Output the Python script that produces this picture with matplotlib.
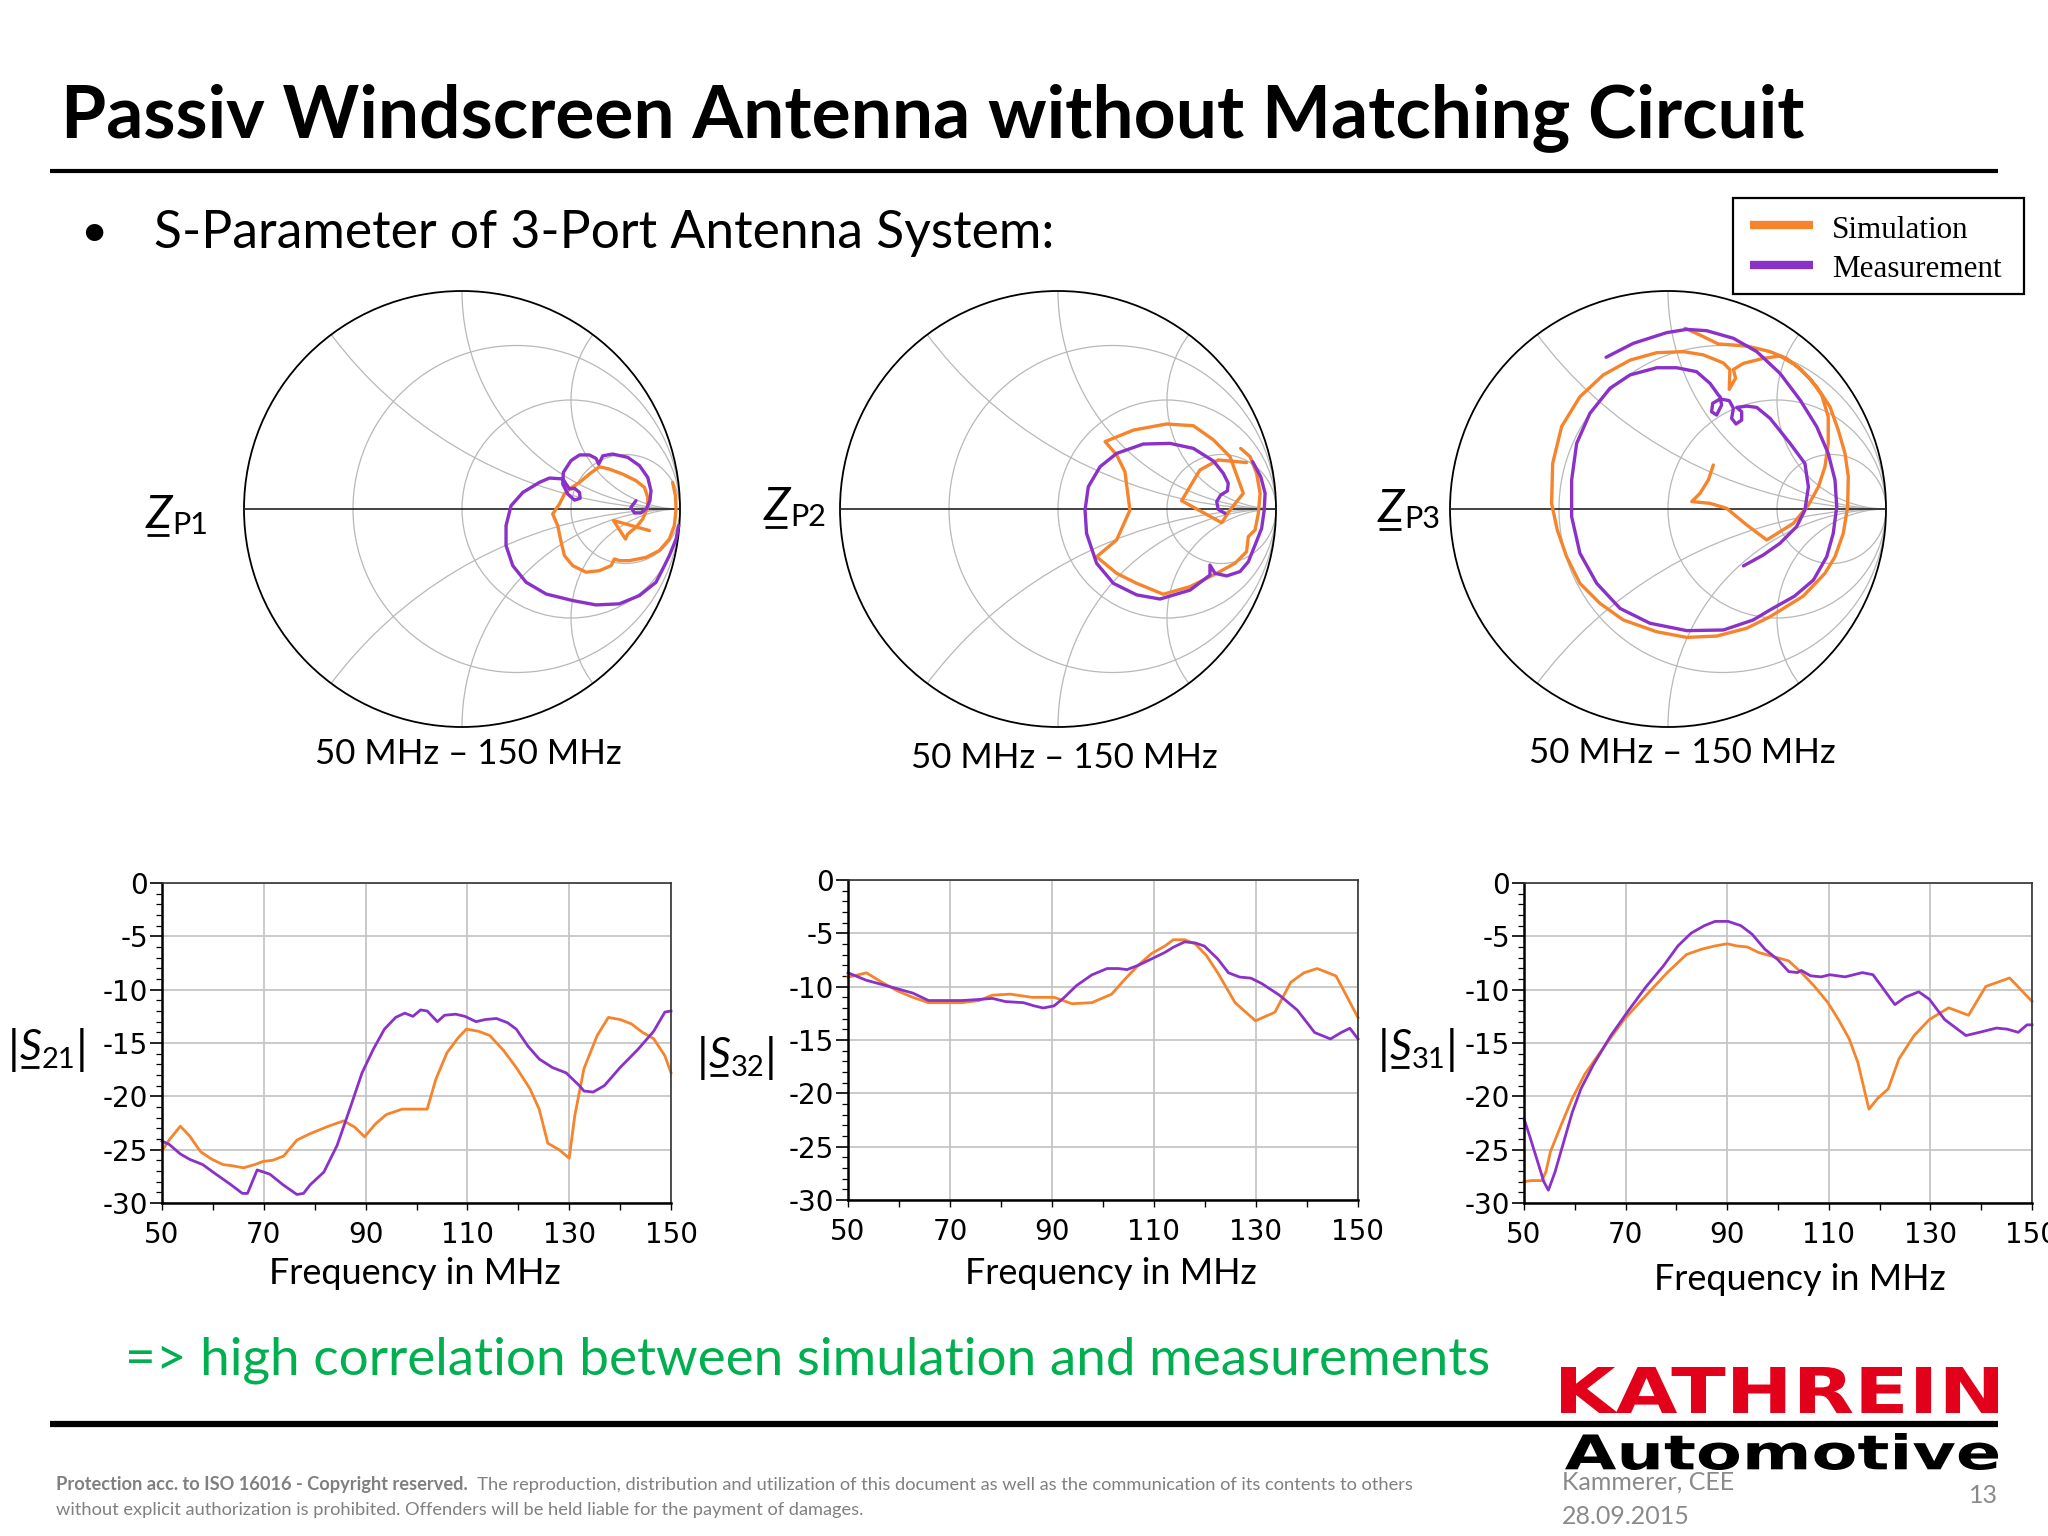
import numpy as np
import matplotlib
matplotlib.use("Agg")
import matplotlib.pyplot as plt
from matplotlib.patches import Circle, PathPatch, Rectangle
from matplotlib.textpath import TextPath
from matplotlib.font_manager import FontProperties
from matplotlib.transforms import Affine2D, IdentityTransform
from matplotlib.lines import Line2D

plt.rcParams['axes.unicode_minus'] = False

# ---------------- data ----------------
TITLE = "Passiv Windscreen Antenna without Matching Circuit"
SUBTITLE = "S-Parameter of 3-Port Antenna System:"
RANGE_TEXT = "50 MHz \u2013 150 MHz"
XLABEL = "Frequency in MHz"
CONCLUSION = "=> high correlation between simulation and measurements"
LEGEND_LABELS = ["Simulation", "Measurement"]

# Smith-chart grid values (normalised)
R_CIRCLES = [1/3, 1.0, 3.0]
X_ARCS = [0.5, 1.0, 2.0]

Z1_SIM_RE = [0.966, 0.979, 0.982, 0.974, 0.951, 0.905, 0.844, 0.768, 0.722, 0.699, 0.684, 0.630, 0.569, 0.508,
             0.470, 0.455, 0.439, 0.416, 0.447, 0.470, 0.493, 0.539, 0.584, 0.630, 0.676, 0.737, 0.798, 0.837,
             0.852, 0.852, 0.829, 0.798, 0.760, 0.750, 0.695, 0.860]
Z1_SIM_IM = [0.122, 0.061, 0.0, -0.076, -0.138, -0.191, -0.222, -0.237, -0.237, -0.229, -0.260, -0.283, -0.290,
             -0.260, -0.214, -0.153, -0.076, -0.023, 0.023, 0.069, 0.092, 0.122, 0.160, 0.194, 0.183, 0.160, 0.130,
             0.099, 0.053, 0.008, -0.046, -0.084, -0.115, -0.138, -0.053, -0.099]
Z1_MEAS_RE = [0.798, 0.775, 0.791, 0.821, 0.847, 0.862, 0.867, 0.852, 0.814, 0.760, 0.691, 0.646, 0.627, 0.615,
              0.584, 0.539, 0.500, 0.465, 0.462, 0.485, 0.516, 0.542, 0.539, 0.516, 0.493, 0.462, 0.401, 0.355,
              0.279, 0.225, 0.202, 0.202, 0.233, 0.294, 0.386, 0.508, 0.615, 0.722, 0.814, 0.890, 0.921, 0.951,
              0.982, 0.994]
Z1_MEAS_IM = [0.038, 0.008, -0.018, -0.018, 0.003, 0.038, 0.084, 0.145, 0.199, 0.237, 0.252, 0.244, 0.206, 0.232,
              0.248, 0.248, 0.222, 0.168, 0.115, 0.069, 0.041, 0.049, 0.076, 0.095, 0.092, 0.138, 0.142, 0.122,
              0.076, 0.015, -0.076, -0.168, -0.260, -0.336, -0.390, -0.420, -0.440, -0.435, -0.397, -0.336,
              -0.275, -0.214, -0.138, -0.076]

Z2_SIM_RE = [0.865, 0.735, 0.651, 0.567, 0.751, 0.789, 0.850, 0.789, 0.713, 0.621, 0.498, 0.346, 0.216, 0.269,
             0.307, 0.330, 0.269, 0.177, 0.269, 0.361, 0.483, 0.606, 0.728, 0.812, 0.865, 0.873, 0.904, 0.919,
             0.927, 0.911, 0.881, 0.838]
Z2_SIM_IM = [0.213, 0.225, 0.179, 0.038, -0.063, -0.005, 0.072, 0.240, 0.317, 0.382, 0.390, 0.362, 0.309, 0.248,
             0.171, -0.005, -0.142, -0.219, -0.295, -0.341, -0.391, -0.356, -0.295, -0.249, -0.196, -0.127,
             -0.096, -0.020, 0.072, 0.164, 0.240, 0.278]
Z2_MEAS_RE = [0.766, 0.735, 0.728, 0.746, 0.777, 0.781, 0.758, 0.713, 0.621, 0.514, 0.391, 0.269, 0.193, 0.139,
              0.124, 0.131, 0.177, 0.254, 0.361, 0.468, 0.606, 0.697, 0.697, 0.720, 0.774, 0.835, 0.873, 0.904,
              0.934, 0.946, 0.950, 0.930, 0.893]
Z2_MEAS_IM = [-0.020, -0.002, 0.034, 0.064, 0.083, 0.118, 0.164, 0.220, 0.278, 0.301, 0.298, 0.255, 0.194, 0.102,
              -0.005, -0.112, -0.249, -0.341, -0.394, -0.413, -0.372, -0.303, -0.257, -0.295, -0.307, -0.287,
              -0.242, -0.165, -0.089, -0.005, 0.072, 0.148, 0.217]

Z3_SIM_RE = [0.078, 0.147, 0.231, 0.361, 0.468, 0.544, 0.613, 0.682, 0.743, 0.781, 0.812, 0.827, 0.824, 0.804,
             0.766, 0.720, 0.620, 0.468, 0.361, 0.223, 0.086, -0.052, -0.205, -0.312, -0.404, -0.465, -0.508,
             -0.534, -0.529, -0.488, -0.404, -0.297, -0.174, -0.052, 0.070, 0.162, 0.254, 0.284, 0.281, 0.310,
             0.300, 0.346, 0.437, 0.514, 0.583, 0.651, 0.705, 0.735, 0.735, 0.720, 0.690, 0.644, 0.575, 0.453,
             0.361, 0.269, 0.193, 0.109, 0.147, 0.185, 0.208]
Z3_SIM_IM = [0.829, 0.798, 0.757, 0.748, 0.722, 0.691, 0.638, 0.561, 0.469, 0.362, 0.255, 0.148, 0.011, -0.112,
             -0.219, -0.295, -0.400, -0.494, -0.547, -0.583, -0.589, -0.563, -0.509, -0.433, -0.341, -0.219,
             -0.096, 0.026, 0.209, 0.378, 0.515, 0.615, 0.683, 0.717, 0.722, 0.707, 0.670, 0.639, 0.549, 0.600,
             0.640, 0.668, 0.691, 0.702, 0.661, 0.599, 0.523, 0.424, 0.301, 0.194, 0.102, 0.018, -0.066, -0.142,
             -0.073, 0.003, 0.026, 0.034, 0.072, 0.133, 0.202]
Z3_MEAS_RE = [-0.284, -0.159, -0.006, 0.086, 0.177, 0.300, 0.407, 0.514, 0.606, 0.682, 0.735, 0.766, 0.774, 0.758,
              0.728, 0.667, 0.580, 0.468, 0.391, 0.254, 0.086, -0.083, -0.220, -0.327, -0.404, -0.442, -0.442,
              -0.419, -0.358, -0.266, -0.174, -0.052, 0.040, 0.131, 0.193, 0.231, 0.239, 0.246, 0.223, 0.200,
              0.205, 0.239, 0.281, 0.300, 0.292, 0.312, 0.338, 0.338, 0.315, 0.361, 0.407, 0.468, 0.560, 0.628,
              0.644, 0.628, 0.590, 0.514, 0.437, 0.346]
Z3_MEAS_IM = [0.696, 0.760, 0.809, 0.824, 0.818, 0.783, 0.722, 0.622, 0.500, 0.378, 0.255, 0.133, 0.011, -0.112,
              -0.219, -0.326, -0.400, -0.463, -0.509, -0.555, -0.558, -0.524, -0.456, -0.341, -0.203, -0.035,
              0.133, 0.301, 0.439, 0.554, 0.615, 0.648, 0.648, 0.630, 0.576, 0.523, 0.515, 0.477, 0.431, 0.446,
              0.485, 0.505, 0.497, 0.462, 0.416, 0.390, 0.408, 0.446, 0.466, 0.472, 0.466, 0.416, 0.301, 0.209,
              0.102, -0.005, -0.081, -0.157, -0.211, -0.261]

# |S| curves in dB vs frequency in MHz
S21_SIM_F = [50, 51.4, 53.6, 55.4, 57.6, 59.8, 62.0, 63.7, 66.0, 68.2, 69.9, 71.7, 73.9, 76.5, 79.1, 82.7, 85.7,
             87.9, 89.8, 91.9, 94.1, 97.2, 99.8, 102.1, 103.8, 106.0, 108.2, 109.8, 112.2, 114.4, 117.1, 119.6,
             122.3, 124.1, 125.8, 128.0, 130.0, 131.1, 132.9, 135.5, 137.7, 140.0, 142.2, 144.4, 146.6, 148.8, 150]
S21_SIM_DB = [-25.1, -24.1, -22.8, -23.7, -25.2, -25.9, -26.4, -26.5, -26.7, -26.4, -26.1, -26.0, -25.6, -24.1,
              -23.5, -22.8, -22.3, -22.9, -23.8, -22.6, -21.7, -21.2, -21.2, -21.2, -18.4, -15.9, -14.5, -13.7,
              -13.9, -14.3, -15.7, -17.3, -19.3, -21.2, -24.4, -25.0, -25.8, -21.8, -17.4, -14.3, -12.6, -12.8,
              -13.2, -14.0, -14.6, -16.2, -17.8]
S21_MEAS_F = [50, 51.4, 53.6, 55.4, 58, 60.6, 63.3, 65.8, 66.8, 68.7, 71.2, 73.8, 76.5, 77.8, 79.1, 81.8, 84.4,
              87.1, 89.3, 91.5, 93.7, 95.9, 97.7, 99.3, 100.8, 102.1, 104.1, 105.5, 107.7, 109.5, 111.7, 113.5,
              115.7, 117.9, 119.6, 121.9, 124.1, 126.7, 129.4, 132.0, 132.9, 134.7, 136.9, 140.0, 143.5, 146.6,
              148.8, 150]
S21_MEAS_DB = [-24.2, -24.5, -25.4, -25.9, -26.4, -27.3, -28.2, -29.1, -29.1, -26.9, -27.3, -28.3, -29.2, -29.1,
               -28.3, -27.1, -24.6, -20.9, -17.8, -15.6, -13.7, -12.6, -12.2, -12.5, -11.9, -12.0, -13.0, -12.4,
               -12.3, -12.5, -13.0, -12.8, -12.7, -13.1, -13.7, -15.3, -16.5, -17.3, -17.8, -19.0, -19.5, -19.6,
               -19.0, -17.3, -15.6, -13.9, -12.1, -12.0]

S32_SIM_F = [50, 51.9, 53.6, 56.7, 59.7, 62.7, 65.8, 68.8, 72.3, 75.7, 78.3, 81.8, 86.1, 90.4, 92.2, 93.9, 97.8,
             101.7, 104.3, 106.9, 109.5, 112.1, 113.8, 116.0, 118.1, 120.3, 122.5, 125.9, 129.9, 133.7, 136.8,
             139.4, 142.0, 145.7, 150]
S32_SIM_DB = [-9.1, -8.9, -8.7, -9.6, -10.4, -11.0, -11.5, -11.5, -11.5, -11.3, -10.8, -10.7, -11.0, -11.0, -11.3,
              -11.6, -11.5, -10.7, -9.3, -8.0, -6.9, -6.2, -5.6, -5.6, -6.0, -7.1, -8.7, -11.5, -13.2, -12.4, -9.6,
              -8.7, -8.3, -9.0, -12.9]
S32_MEAS_F = [50, 53.6, 56.7, 59.7, 62.7, 65.8, 68.8, 72.3, 75.7, 78.3, 80.9, 84.4, 86.5, 88.3, 90.4, 92.2, 94.8,
              97.8, 100.8, 103.0, 104.7, 106.9, 109.5, 112.1, 113.8, 116.0, 118.1, 119.9, 122.5, 124.6, 126.8,
              129.0, 131.1, 134.6, 138.1, 141.5, 144.6, 146.7, 148.4, 150]
S32_MEAS_DB = [-8.7, -9.4, -9.8, -10.2, -10.6, -11.3, -11.3, -11.3, -11.2, -11.1, -11.4, -11.5, -11.8, -12.0, -11.8,
               -11.1, -9.9, -8.9, -8.3, -8.3, -8.4, -8.0, -7.4, -6.8, -6.3, -5.8, -5.9, -6.2, -7.4, -8.7, -9.1,
               -9.2, -9.7, -10.8, -12.2, -14.3, -14.9, -14.3, -13.9, -14.9]

S31_SIM_F = [50, 51.4, 53.5, 54.3, 55.2, 57.3, 59.5, 62.0, 65.4, 69.7, 73.9, 78.2, 82.0, 85.0, 87.6, 90.0, 91.9,
             94.0, 96.1, 99.1, 102.1, 104.6, 107.2, 109.8, 111.9, 114.0, 115.7, 117.9, 119.6, 121.7, 123.8, 126.8,
             129.8, 133.6, 137.5, 140.9, 145.6, 150]
S31_SIM_DB = [-28.0, -27.9, -27.9, -27.1, -25.2, -22.7, -20.2, -17.9, -15.6, -12.8, -10.6, -8.4, -6.7, -6.2, -5.9,
              -5.7, -5.9, -6.0, -6.5, -6.9, -7.3, -8.4, -9.7, -11.2, -12.8, -14.6, -16.8, -21.2, -20.2, -19.3,
              -16.5, -14.3, -12.8, -11.7, -12.4, -9.7, -8.9, -11.1]
S31_MEAS_F = [50, 51.1, 52.6, 53.9, 54.8, 56.1, 57.8, 59.5, 61.2, 63.7, 67.1, 70.5, 73.9, 77.4, 80.3, 82.9, 85.5,
              87.6, 90.2, 92.7, 94.9, 97.4, 100.0, 102.1, 103.8, 104.6, 106.4, 108.5, 110.2, 113.2, 116.6, 118.7,
              120.4, 123.0, 125.1, 127.7, 129.8, 132.8, 137.0, 140.5, 143.0, 145.1, 147.3, 149.0, 150]
S31_MEAS_DB = [-22.1, -23.7, -26.0, -28.0, -28.8, -27.1, -24.3, -21.5, -19.3, -17.0, -14.3, -12.0, -9.8, -7.8,
               -5.9, -4.7, -4.0, -3.6, -3.6, -4.0, -4.8, -6.2, -7.2, -8.3, -8.4, -8.2, -8.7, -8.8, -8.6, -8.8,
               -8.4, -8.6, -9.7, -11.4, -10.7, -10.2, -10.9, -12.8, -14.3, -13.9, -13.6, -13.7, -14.0, -13.3, -13.3]

X_TICKS = [50, 70, 90, 110, 130, 150]
Y_TICKS = [0, -5, -10, -15, -20, -25, -30]

FOOTER_BOLD = "Protection acc. to ISO 16016 - Copyright reserved."
FOOTER_1 = ("  The reproduction, distribution and utilization of this document as well as the communication "
            "of its contents to others")
FOOTER_2 = "without explicit authorization is prohibited. Offenders will be held liable for the payment of damages."
AUTHOR = "Kammerer, CEE"
DATE = "28.09.2015"
PAGE = "13"

# ---------------- style ----------------
ORANGE = '#F5842C'
PURPLE = '#8A31C9'
GRIDC = '#b8b8b8'
SANS = ['Lato', 'DejaVu Sans']
NARROW = ['Liberation Sans Narrow', 'DejaVu Sans']
SERIF = ['Liberation Serif', 'DejaVu Serif']

W, H = 2048, 1536
fig = plt.figure(figsize=(W / 100, H / 100), dpi=100)
fig.patch.set_facecolor('white')
renderer = fig.canvas.get_renderer()


def fx(x):
    return x / W


def fy(y):
    return 1 - y / H


def text_px(x, y, s, size, **kw):
    kw.setdefault('ha', 'left')
    kw.setdefault('va', 'baseline')
    return fig.text(fx(x), fy(y), s, fontsize=size, **kw)


def fit_text(x, y, s, width, size0=20, **kw):
    t = text_px(x, y, s, size0, **kw)
    w = t.get_window_extent(renderer).width
    t.set_fontsize(size0 * width / w)
    return t


def hline(x0, x1, y, lw, color='black'):
    fig.add_artist(Line2D([fx(x0), fx(x1)], [fy(y), fy(y)], transform=fig.transFigure,
                          color=color, lw=lw, solid_capstyle='butt'))


def seq_text(x, y, parts, family=SANS):
    """parts: (string, size, style, dy, underline)"""
    cur = x
    for s, size, style, dy, ul in parts:
        t = text_px(cur, y + dy, s, size, style=style, family=family)
        bb = t.get_window_extent(renderer)
        if ul:
            hline(bb.x0 + 1, bb.x1 - 3, y + 7, 2.0)
        cur += bb.width


def logo_text(s, box, color, family='DejaVu Sans', weight='bold'):
    x0, y0, x1, y1 = box
    fp = FontProperties(family=family, weight=weight)
    tp = TextPath((0, 0), s, size=100, prop=fp)
    ext = tp.get_extents()
    sx = (x1 - x0) / ext.width
    sy = (y1 - y0) / ext.height
    tr = Affine2D().translate(-ext.x0, -ext.y0).scale(sx, sy).translate(x0, H - y1)
    fig.add_artist(PathPatch(tr.transform_path(tp), fc=color, ec='none', transform=IdentityTransform()))


# ---------------- header ----------------
fit_text(61, 137, TITLE, 1748, size0=50, family=SANS, weight='bold')
hline(50, 1998, 171, 3.0)
text_px(80, 246, "\u2022", 34, family=SANS)
fit_text(154, 248, SUBTITLE, 901, size0=36, family=SANS)

# legend
fig.add_artist(Rectangle((fx(1733), fy(294)), (2024 - 1733) / W, (294 - 198) / H, transform=fig.transFigure,
                         fill=False, ec='black', lw=1.6))
hline(1750, 1813, 225, 6.0, ORANGE)
hline(1750, 1813, 265, 6.0, PURPLE)
fit_text(1832, 238, LEGEND_LABELS[0], 137, size0=24, family=SERIF)
fit_text(1832, 277, LEGEND_LABELS[1], 170, size0=24, family=SERIF)


# ---------------- Smith charts ----------------
def smith_axes(cx, cy, R=218):
    ax = fig.add_axes([fx(cx - R), fy(cy + R), 2 * R / W, 2 * R / H])
    ax.set_xlim(-1, 1)
    ax.set_ylim(-1, 1)
    ax.axis('off')
    clip = Circle((0, 0), 1, fill=False, lw=0)
    ax.add_patch(clip)
    for r in R_CIRCLES:
        ax.add_patch(Circle((r / (1 + r), 0), 1 / (1 + r), fill=False, ec=GRIDC, lw=0.9))
    for xv in X_ARCS:
        for sgn in (1, -1):
            c = Circle((1, sgn / xv), 1 / xv, fill=False, ec=GRIDC, lw=0.9)
            ax.add_patch(c)
            c.set_clip_path(clip)
    ax.plot([-1, 1], [0, 0], color='#222222', lw=1.2)
    ax.add_patch(Circle((0, 0), 1, fill=False, ec='black', lw=1.3, clip_on=False))
    return ax


smiths = [
    (462, 509, Z1_SIM_RE, Z1_SIM_IM, Z1_MEAS_RE, Z1_MEAS_IM),
    (1058, 509, Z2_SIM_RE, Z2_SIM_IM, Z2_MEAS_RE, Z2_MEAS_IM),
    (1668, 509, Z3_SIM_RE, Z3_SIM_IM, Z3_MEAS_RE, Z3_MEAS_IM),
]
for cx, cy, sre, sim, mre, mim in smiths:
    ax = smith_axes(cx, cy)
    ax.plot(sre, sim, color=ORANGE, lw=2.4, clip_on=False, solid_joinstyle='round', solid_capstyle='round')
    ax.plot(mre, mim, color=PURPLE, lw=2.4, clip_on=False, solid_joinstyle='round', solid_capstyle='round')

# port labels
for x0, yb, sub in [(146, 528, "P1"), (764, 520, "P2"), (1378, 522, "P3")]:
    seq_text(x0, yb, [("Z", 34, 'italic', 0, True), (sub, 22, 'normal', 6, False)])

# frequency range captions
for cxp, yb in [(468, 764), (1064, 768), (1682, 763)]:
    fit_text(cxp, yb, RANGE_TEXT, 306, size0=28, family=SANS, ha='center')


# ---------------- |S| charts ----------------
def s_axes(x0, y0, x1, y1):
    ax = fig.add_axes([fx(x0), fy(y1), (x1 - x0) / W, (y1 - y0) / H])
    ax.set_xlim(50, 150)
    ax.set_ylim(-30, 0)
    ax.set_xticks(X_TICKS)
    ax.set_xticks(np.arange(50, 151, 10), minor=True)
    ax.set_yticks(Y_TICKS)
    ax.set_yticks(np.arange(-30, 1, 1), minor=True)
    ax.grid(True, which='major', color='#c6c6c6', lw=1.3)
    ax.tick_params(which='both', direction='out', color='black', labelsize=20)
    ax.tick_params(axis='y', which='major', length=9, width=1.2, pad=1)
    ax.tick_params(axis='y', which='minor', length=4.5, width=0.9)
    ax.tick_params(axis='x', which='both', length=5, width=1.0, pad=8)
    for lab in ax.get_xticklabels() + ax.get_yticklabels():
        lab.set_family(NARROW)
    for sp in ['left', 'bottom']:
        ax.spines[sp].set_linewidth(1.8)
    for sp in ['top', 'right']:
        ax.spines[sp].set_linewidth(1.2)
        ax.spines[sp].set_color('#333333')
    return ax


charts = [
    ((162, 883, 671, 1203), S21_SIM_F, S21_SIM_DB, S21_MEAS_F, S21_MEAS_DB, (8, 1060, "21"), (415, 1284)),
    ((848, 880, 1358, 1200), S32_SIM_F, S32_SIM_DB, S32_MEAS_F, S32_MEAS_DB, (697, 1068, "32"), (1111, 1284)),
    ((1524, 883, 2032, 1203), S31_SIM_F, S31_SIM_DB, S31_MEAS_F, S31_MEAS_DB, (1378, 1060, "31"), (1800, 1290)),
]
for box, sf, sd, mf, md, (lx, ly, sub), (xlx, xly) in charts:
    ax = s_axes(*box)
    ax.plot(sf, sd, color=ORANGE, lw=2.0, clip_on=False)
    ax.plot(mf, md, color=PURPLE, lw=2.0, clip_on=False)
    seq_text(lx, ly, [("|", 34, 'normal', 4, False), ("S", 31, 'italic', 0, True),
                      (sub, 21, 'normal', 8, False), ("|", 34, 'normal', 4, False)])
    fit_text(xlx, xly, XLABEL, 291, size0=26, family=SANS, ha='center')

# ---------------- conclusion & footer ----------------
fit_text(125, 1374, CONCLUSION, 1364, size0=36, family=SANS, color='#00B050')
hline(50, 1998, 1424, 4.5)

tb = fit_text(56, 1490, FOOTER_BOLD, 409, size0=12, family=SANS, weight='bold', color='#808080')
fs = tb.get_fontsize()
bb = tb.get_window_extent(renderer)
text_px(bb.x1, 1490, FOOTER_1, fs, family=SANS, color='#808080')
text_px(56, 1515, FOOTER_2, fs, family=SANS, color='#808080')

logo_text("KATHREIN", (1561, 1367, 1998, 1413), '#E2001A')
logo_text("Automotive", (1565, 1433, 1998, 1470), 'black', family='DejaVu Sans', weight='bold')
text_px(1562, 1490, AUTHOR, 18, family=SANS, color='#8a8a8a')
text_px(1562, 1524, DATE, 18, family=SANS, color='#8a8a8a')
text_px(1998, 1503, PAGE, 18, family=SANS, color='#8a8a8a', ha='right')

fig.savefig("out.png", dpi=100, facecolor='white')
